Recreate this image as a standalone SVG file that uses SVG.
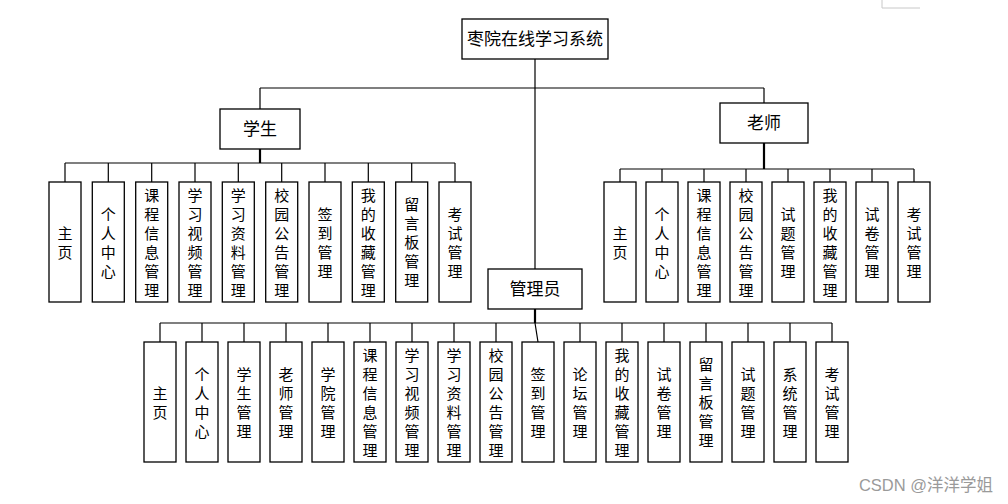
<svg xmlns="http://www.w3.org/2000/svg" width="1008" height="504" viewBox="0 0 1008 504">
<style>
.b{fill:#fff;stroke:#000;stroke-width:1.3}
.t{font-family:"Liberation Sans","Noto Sans CJK SC",sans-serif;font-size:15px;fill:#000;text-anchor:middle;dominant-baseline:central}
.h{font-family:"Liberation Sans","Noto Sans CJK SC",sans-serif;font-size:17px;fill:#000;text-anchor:middle;dominant-baseline:central}
.c{fill:none;stroke:#000;stroke-width:1.2}
.k{fill:none;stroke:#000;stroke-width:2.2}
</style>
<rect width="1008" height="504" fill="#fff"/>
<path d="M882 0V8H920" fill="none" stroke="#c8c8c8" stroke-width="1"/>
<g id="connectors">
<path class="c" d="M535 59V269M260 88H764M260 88V109M764 88V103"/>
<path class="k" d="M260 149V163M764 143V169M535 309V323"/>
<path class="c" d="M65 163H455M65 163V182M108.3 163V182M151.7 163V182M195 163V182M238.3 163V182M281.7 163V182M325 163V182M368.3 163V182M411.7 163V182M455 163V182"/>
<path class="c" d="M620 169H914M620 169V182M662 169V182M704 169V182M746 169V182M788 169V182M830 169V182M872 169V182M914 169V182"/>
<path class="c" d="M160 323H832M160 323V342M202 323V342M244 323V342M286 323V342M328 323V342M370 323V342M412 323V342M454 323V342M496 323V342M535 323L538 342M580 323V342M622 323V342M664 323V342M706 323V342M748 323V342M790 323V342M832 323V342"/>
</g>
<g id="root"><rect class="b" x="462" y="19" width="146" height="40"/><text class="h" x="535" y="39">枣院在线学习系统</text></g>
<g id="student"><rect class="b" x="220" y="109" width="80" height="40"/><text class="h" x="260" y="129">学生</text></g>
<g id="teacher"><rect class="b" x="720" y="103" width="88" height="40"/><text class="h" x="764" y="123">老师</text></g>
<g id="admin"><rect class="b" x="488" y="269" width="94" height="40"/><text class="h" x="535" y="289">管理员</text></g>

<g id="s1"><rect class="b" x="49" y="182" width="32" height="120"/><text class="t"><tspan x="65" y="232.5">主</tspan><tspan x="65" dy="19">页</tspan></text></g>
<g id="s2"><rect class="b" x="92.3" y="182" width="32" height="120"/><text class="t"><tspan x="108.3" y="213.5">个</tspan><tspan x="108.3" dy="19">人</tspan><tspan x="108.3" dy="19">中</tspan><tspan x="108.3" dy="19">心</tspan></text></g>
<g id="s3"><rect class="b" x="135.7" y="182" width="32" height="120"/><text class="t"><tspan x="151.7" y="194.5">课</tspan><tspan x="151.7" dy="19">程</tspan><tspan x="151.7" dy="19">信</tspan><tspan x="151.7" dy="19">息</tspan><tspan x="151.7" dy="19">管</tspan><tspan x="151.7" dy="19">理</tspan></text></g>
<g id="s4"><rect class="b" x="179" y="182" width="32" height="120"/><text class="t"><tspan x="195" y="194.5">学</tspan><tspan x="195" dy="19">习</tspan><tspan x="195" dy="19">视</tspan><tspan x="195" dy="19">频</tspan><tspan x="195" dy="19">管</tspan><tspan x="195" dy="19">理</tspan></text></g>
<g id="s5"><rect class="b" x="222.3" y="182" width="32" height="120"/><text class="t"><tspan x="238.3" y="194.5">学</tspan><tspan x="238.3" dy="19">习</tspan><tspan x="238.3" dy="19">资</tspan><tspan x="238.3" dy="19">料</tspan><tspan x="238.3" dy="19">管</tspan><tspan x="238.3" dy="19">理</tspan></text></g>
<g id="s6"><rect class="b" x="265.7" y="182" width="32" height="120"/><text class="t"><tspan x="281.7" y="194.5">校</tspan><tspan x="281.7" dy="19">园</tspan><tspan x="281.7" dy="19">公</tspan><tspan x="281.7" dy="19">告</tspan><tspan x="281.7" dy="19">管</tspan><tspan x="281.7" dy="19">理</tspan></text></g>
<g id="s7"><rect class="b" x="309" y="182" width="32" height="120"/><text class="t"><tspan x="325" y="213.5">签</tspan><tspan x="325" dy="19">到</tspan><tspan x="325" dy="19">管</tspan><tspan x="325" dy="19">理</tspan></text></g>
<g id="s8"><rect class="b" x="352.3" y="182" width="32" height="120"/><text class="t"><tspan x="368.3" y="194.5">我</tspan><tspan x="368.3" dy="19">的</tspan><tspan x="368.3" dy="19">收</tspan><tspan x="368.3" dy="19">藏</tspan><tspan x="368.3" dy="19">管</tspan><tspan x="368.3" dy="19">理</tspan></text></g>
<g id="s9"><rect class="b" x="395.7" y="182" width="32" height="120"/><text class="t"><tspan x="411.7" y="204">留</tspan><tspan x="411.7" dy="19">言</tspan><tspan x="411.7" dy="19">板</tspan><tspan x="411.7" dy="19">管</tspan><tspan x="411.7" dy="19">理</tspan></text></g>
<g id="s10"><rect class="b" x="439" y="182" width="32" height="120"/><text class="t"><tspan x="455" y="213.5">考</tspan><tspan x="455" dy="19">试</tspan><tspan x="455" dy="19">管</tspan><tspan x="455" dy="19">理</tspan></text></g>

<g id="t1"><rect class="b" x="604" y="182" width="32" height="120"/><text class="t"><tspan x="620" y="232.5">主</tspan><tspan x="620" dy="19">页</tspan></text></g>
<g id="t2"><rect class="b" x="646" y="182" width="32" height="120"/><text class="t"><tspan x="662" y="213.5">个</tspan><tspan x="662" dy="19">人</tspan><tspan x="662" dy="19">中</tspan><tspan x="662" dy="19">心</tspan></text></g>
<g id="t3"><rect class="b" x="688" y="182" width="32" height="120"/><text class="t"><tspan x="704" y="194.5">课</tspan><tspan x="704" dy="19">程</tspan><tspan x="704" dy="19">信</tspan><tspan x="704" dy="19">息</tspan><tspan x="704" dy="19">管</tspan><tspan x="704" dy="19">理</tspan></text></g>
<g id="t4"><rect class="b" x="730" y="182" width="32" height="120"/><text class="t"><tspan x="746" y="194.5">校</tspan><tspan x="746" dy="19">园</tspan><tspan x="746" dy="19">公</tspan><tspan x="746" dy="19">告</tspan><tspan x="746" dy="19">管</tspan><tspan x="746" dy="19">理</tspan></text></g>
<g id="t5"><rect class="b" x="772" y="182" width="32" height="120"/><text class="t"><tspan x="788" y="213.5">试</tspan><tspan x="788" dy="19">题</tspan><tspan x="788" dy="19">管</tspan><tspan x="788" dy="19">理</tspan></text></g>
<g id="t6"><rect class="b" x="814" y="182" width="32" height="120"/><text class="t"><tspan x="830" y="194.5">我</tspan><tspan x="830" dy="19">的</tspan><tspan x="830" dy="19">收</tspan><tspan x="830" dy="19">藏</tspan><tspan x="830" dy="19">管</tspan><tspan x="830" dy="19">理</tspan></text></g>
<g id="t7"><rect class="b" x="856" y="182" width="32" height="120"/><text class="t"><tspan x="872" y="213.5">试</tspan><tspan x="872" dy="19">卷</tspan><tspan x="872" dy="19">管</tspan><tspan x="872" dy="19">理</tspan></text></g>
<g id="t8"><rect class="b" x="898" y="182" width="32" height="120"/><text class="t"><tspan x="914" y="213.5">考</tspan><tspan x="914" dy="19">试</tspan><tspan x="914" dy="19">管</tspan><tspan x="914" dy="19">理</tspan></text></g>

<g id="a1"><rect class="b" x="144" y="342" width="32" height="120"/><text class="t"><tspan x="160" y="392.5">主</tspan><tspan x="160" dy="19">页</tspan></text></g>
<g id="a2"><rect class="b" x="186" y="342" width="32" height="120"/><text class="t"><tspan x="202" y="373.5">个</tspan><tspan x="202" dy="19">人</tspan><tspan x="202" dy="19">中</tspan><tspan x="202" dy="19">心</tspan></text></g>
<g id="a3"><rect class="b" x="228" y="342" width="32" height="120"/><text class="t"><tspan x="244" y="373.5">学</tspan><tspan x="244" dy="19">生</tspan><tspan x="244" dy="19">管</tspan><tspan x="244" dy="19">理</tspan></text></g>
<g id="a4"><rect class="b" x="270" y="342" width="32" height="120"/><text class="t"><tspan x="286" y="373.5">老</tspan><tspan x="286" dy="19">师</tspan><tspan x="286" dy="19">管</tspan><tspan x="286" dy="19">理</tspan></text></g>
<g id="a5"><rect class="b" x="312" y="342" width="32" height="120"/><text class="t"><tspan x="328" y="373.5">学</tspan><tspan x="328" dy="19">院</tspan><tspan x="328" dy="19">管</tspan><tspan x="328" dy="19">理</tspan></text></g>
<g id="a6"><rect class="b" x="354" y="342" width="32" height="120"/><text class="t"><tspan x="370" y="354.5">课</tspan><tspan x="370" dy="19">程</tspan><tspan x="370" dy="19">信</tspan><tspan x="370" dy="19">息</tspan><tspan x="370" dy="19">管</tspan><tspan x="370" dy="19">理</tspan></text></g>
<g id="a7"><rect class="b" x="396" y="342" width="32" height="120"/><text class="t"><tspan x="412" y="354.5">学</tspan><tspan x="412" dy="19">习</tspan><tspan x="412" dy="19">视</tspan><tspan x="412" dy="19">频</tspan><tspan x="412" dy="19">管</tspan><tspan x="412" dy="19">理</tspan></text></g>
<g id="a8"><rect class="b" x="438" y="342" width="32" height="120"/><text class="t"><tspan x="454" y="354.5">学</tspan><tspan x="454" dy="19">习</tspan><tspan x="454" dy="19">资</tspan><tspan x="454" dy="19">料</tspan><tspan x="454" dy="19">管</tspan><tspan x="454" dy="19">理</tspan></text></g>
<g id="a9"><rect class="b" x="480" y="342" width="32" height="120"/><text class="t"><tspan x="496" y="354.5">校</tspan><tspan x="496" dy="19">园</tspan><tspan x="496" dy="19">公</tspan><tspan x="496" dy="19">告</tspan><tspan x="496" dy="19">管</tspan><tspan x="496" dy="19">理</tspan></text></g>
<g id="a10"><rect class="b" x="522" y="342" width="32" height="120"/><text class="t"><tspan x="538" y="373.5">签</tspan><tspan x="538" dy="19">到</tspan><tspan x="538" dy="19">管</tspan><tspan x="538" dy="19">理</tspan></text></g>
<g id="a11"><rect class="b" x="564" y="342" width="32" height="120"/><text class="t"><tspan x="580" y="373.5">论</tspan><tspan x="580" dy="19">坛</tspan><tspan x="580" dy="19">管</tspan><tspan x="580" dy="19">理</tspan></text></g>
<g id="a12"><rect class="b" x="606" y="342" width="32" height="120"/><text class="t"><tspan x="622" y="354.5">我</tspan><tspan x="622" dy="19">的</tspan><tspan x="622" dy="19">收</tspan><tspan x="622" dy="19">藏</tspan><tspan x="622" dy="19">管</tspan><tspan x="622" dy="19">理</tspan></text></g>
<g id="a13"><rect class="b" x="648" y="342" width="32" height="120"/><text class="t"><tspan x="664" y="373.5">试</tspan><tspan x="664" dy="19">卷</tspan><tspan x="664" dy="19">管</tspan><tspan x="664" dy="19">理</tspan></text></g>
<g id="a14"><rect class="b" x="690" y="342" width="32" height="120"/><text class="t"><tspan x="706" y="364">留</tspan><tspan x="706" dy="19">言</tspan><tspan x="706" dy="19">板</tspan><tspan x="706" dy="19">管</tspan><tspan x="706" dy="19">理</tspan></text></g>
<g id="a15"><rect class="b" x="732" y="342" width="32" height="120"/><text class="t"><tspan x="748" y="373.5">试</tspan><tspan x="748" dy="19">题</tspan><tspan x="748" dy="19">管</tspan><tspan x="748" dy="19">理</tspan></text></g>
<g id="a16"><rect class="b" x="774" y="342" width="32" height="120"/><text class="t"><tspan x="790" y="373.5">系</tspan><tspan x="790" dy="19">统</tspan><tspan x="790" dy="19">管</tspan><tspan x="790" dy="19">理</tspan></text></g>
<g id="a17"><rect class="b" x="816" y="342" width="32" height="120"/><text class="t"><tspan x="832" y="373.5">考</tspan><tspan x="832" dy="19">试</tspan><tspan x="832" dy="19">管</tspan><tspan x="832" dy="19">理</tspan></text></g>

<text x="993" y="491" text-anchor="end" font-family="Liberation Sans,Noto Sans CJK SC,sans-serif" font-size="16.5" fill="#9a9a9a">CSDN @洋洋学姐</text>
</svg>
